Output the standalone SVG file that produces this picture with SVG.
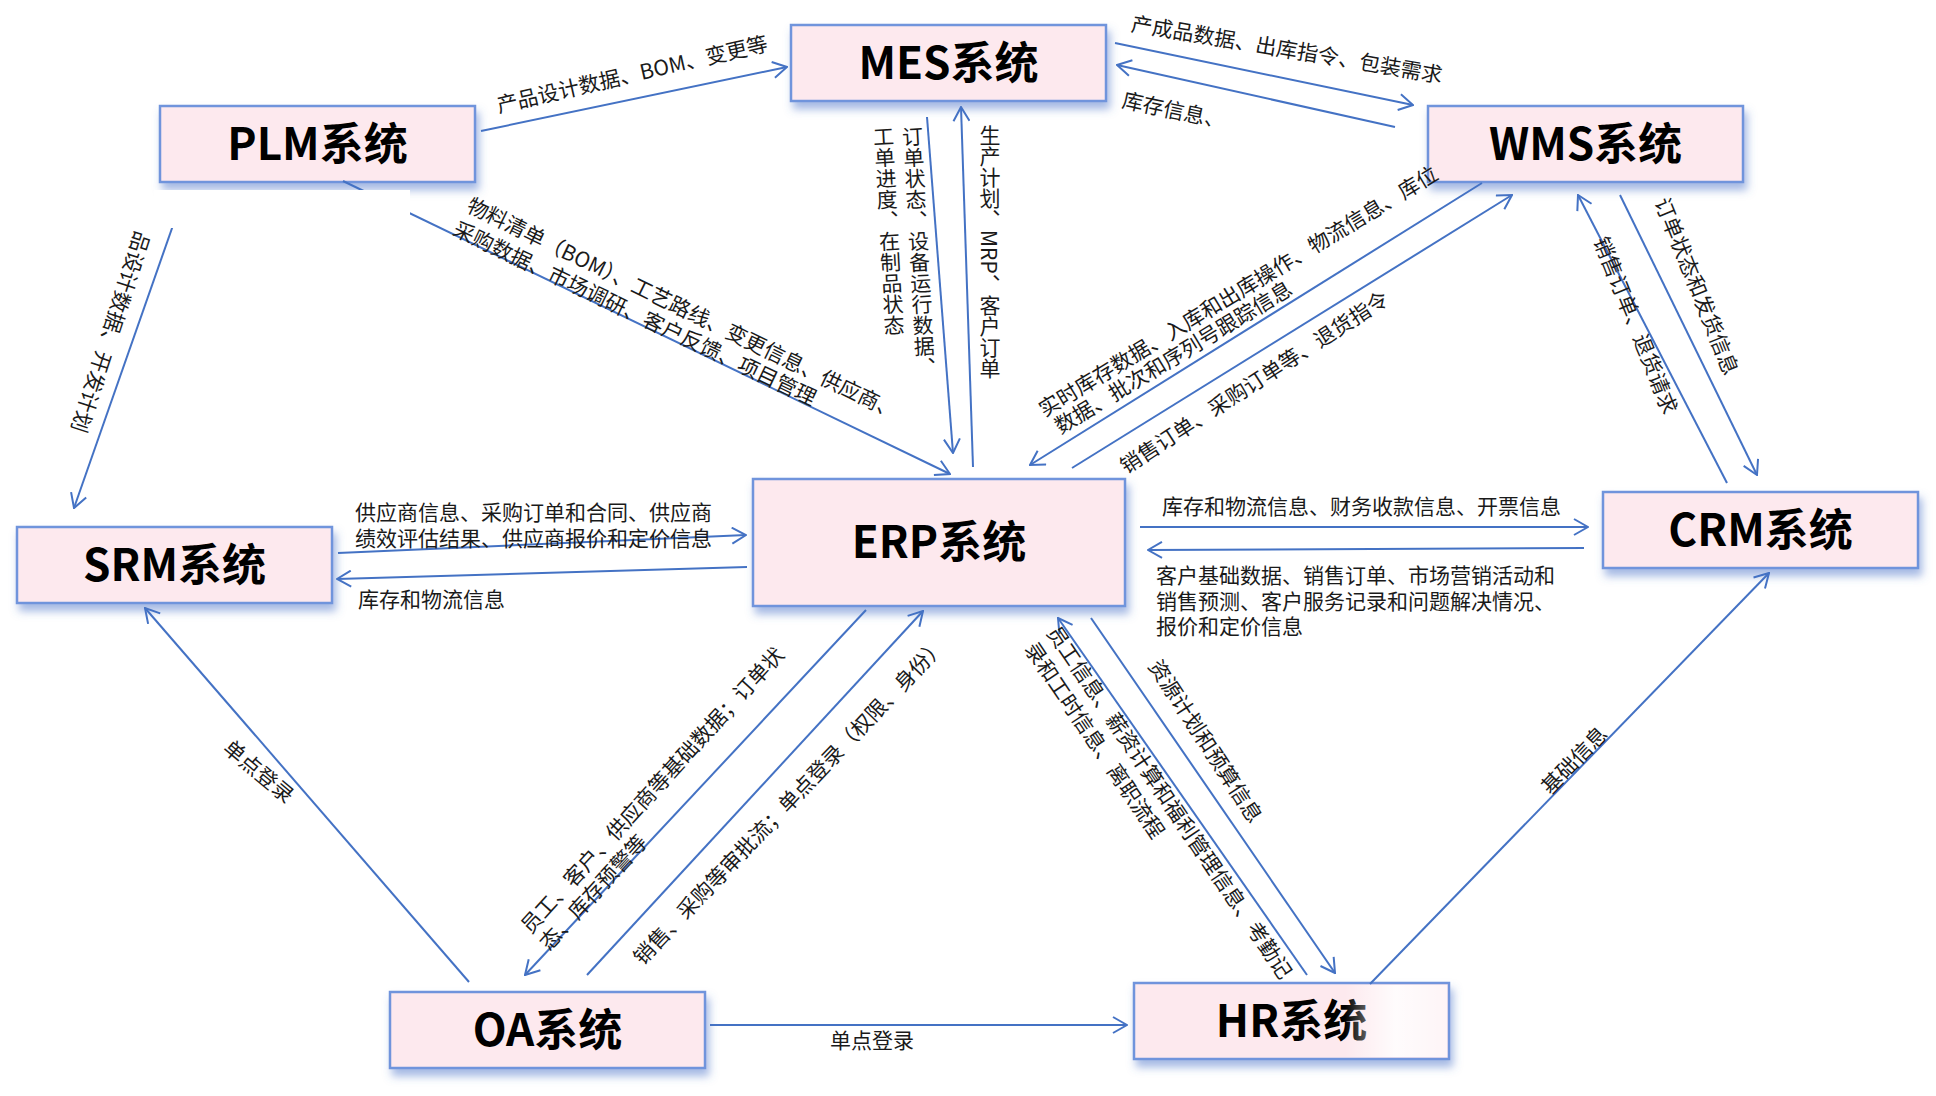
<svg xmlns="http://www.w3.org/2000/svg" width="1936" height="1096" viewBox="0 0 1936 1096">
<defs>
<filter id="sh" x="-10%" y="-20%" width="125%" height="160%">
<feDropShadow dx="3" dy="7" stdDeviation="4" flood-color="#4a72c8" flood-opacity="0.5"/>
</filter>
<marker id="ah" viewBox="0 0 16 18" refX="15" refY="9" markerWidth="16" markerHeight="18" markerUnits="userSpaceOnUse" orient="auto">
<path d="M1,1 L15,9 L1,17" fill="none" stroke="#4472c4" stroke-width="2"/>
</marker>
<linearGradient id="fade" x1="0" y1="0" x2="1" y2="0">
<stop offset="0" stop-color="#fff" stop-opacity="0"/>
<stop offset="0.5" stop-color="#fff" stop-opacity="0.85"/>
<stop offset="1" stop-color="#fff" stop-opacity="0.55"/>
</linearGradient>
<style>
.box{fill:#fde9ee;stroke:#7094dc;stroke-width:2.5;filter:url(#sh)}
.title{font-family:"Noto Sans CJK SC","Noto Sans",sans-serif;font-weight:bold;font-size:44px;text-anchor:middle;fill:#000}
.lbl{font-family:"Noto Sans CJK SC","Noto Sans",sans-serif;font-size:21px;fill:#1a1a1a}
.c{text-anchor:middle}
.v{writing-mode:vertical-rl}
.ln{stroke:#4472c4;stroke-width:2;fill:none;marker-end:url(#ah)}
</style>
</defs>
<rect width="1936" height="1096" fill="#fff"/>

<g id="node-plm"><rect class="box" x="160" y="106" width="315" height="76"/><text class="title" x="317.5" y="160">PLM系统</text></g>
<g id="node-mes"><rect class="box" x="791" y="25" width="315" height="76"/><text class="title" x="948.5" y="79">MES系统</text></g>
<g id="node-wms"><rect class="box" x="1428" y="106" width="315" height="76"/><text class="title" x="1585.5" y="160">WMS系统</text></g>
<g id="node-srm"><rect class="box" x="17" y="527" width="315" height="76"/><text class="title" x="174.5" y="581">SRM系统</text></g>
<g id="node-erp"><rect class="box" x="753" y="479" width="372" height="127"/><text class="title" x="939" y="558">ERP系统</text></g>
<g id="node-crm"><rect class="box" x="1603" y="492" width="315" height="76"/><text class="title" x="1760.5" y="546">CRM系统</text></g>
<g id="node-oa"><rect class="box" x="390" y="992" width="315" height="76"/><text class="title" x="547.5" y="1046">OA系统</text></g>
<g id="node-hr"><rect class="box" x="1134" y="983" width="315" height="76"/><text class="title" x="1291.5" y="1037">HR系统</text><rect x="1345" y="985" width="102" height="72" fill="url(#fade)"/></g>

<g id="connectors">
<path class="ln" d="M481,131 L787,67"/>
<path class="ln" d="M1115,43 L1413,105"/>
<path class="ln" d="M1395,127 L1117,65"/>
<path class="ln" d="M927,117 L953,453"/>
<path class="ln" d="M973,467 L961,107"/>
<path class="ln" d="M343,181 L950,474"/>
<path class="ln" d="M184,194 L74,508"/>
<path class="ln" d="M338,553 L746,535"/>
<path class="ln" d="M747,567 L337,579"/>
<path class="ln" d="M1140,527 L1588,527"/>
<path class="ln" d="M1584,548 L1148,550"/>
<path class="ln" d="M1482,183 L1030,465"/>
<path class="ln" d="M1072,468 L1512,195"/>
<path class="ln" d="M1727,483 L1578,195"/>
<path class="ln" d="M1620,195 L1757,475"/>
<path class="ln" d="M469,982 L145,608"/>
<path class="ln" d="M866,610 L525,975"/>
<path class="ln" d="M587,975 L923,611"/>
<path class="ln" d="M1307,975 L1058,618"/>
<path class="ln" d="M1091,618 L1335,973"/>
<path class="ln" d="M1370,984 L1769,573"/>
<path class="ln" d="M710,1025 L1127,1025"/>
<rect x="154" y="190" width="256" height="38" fill="#fff"/>

<text class="lbl c" transform="translate(632,74) rotate(-13)" y="8">产品设计数据、BOM、变更等</text>
<text class="lbl c" transform="translate(1287,49) rotate(9.5)" y="8">产成品数据、出库指令、包装需求</text>
<text class="lbl c" transform="translate(1174,110) rotate(12)" y="8">库存信息、</text>
<text class="lbl v" x="912" y="126" transform="rotate(-3.2 912 126)">订单状态、设备运行数据、</text>
<text class="lbl v" x="883" y="126" transform="rotate(-3.2 883 126)">工单进度、在制品状态</text>
<text class="lbl v" x="990" y="125">生产计划、MRP、客户订单</text>
<text class="lbl c" transform="translate(683,308) rotate(26)" y="8">物料清单（BOM）、工艺路线、变更信息、供应商、</text>
<text class="lbl c" transform="translate(635,313) rotate(25.5)" y="8">采购数据、市场调研、客户反馈、项目管理</text>
<text class="lbl c" transform="translate(111,332) rotate(108)" y="8">品设计数据、开发计划</text>
<text class="lbl" x="355" y="520">供应商信息、采购订单和合同、供应商</text>
<text class="lbl" x="355" y="546">绩效评估结果、供应商报价和定价信息</text>
<text class="lbl" x="358" y="607">库存和物流信息</text>
<text class="lbl" x="1162" y="514">库存和物流信息、财务收款信息、开票信息</text>
<text class="lbl" x="1156" y="583">客户基础数据、销售订单、市场营销活动和</text>
<text class="lbl" x="1156" y="609">销售预测、客户服务记录和问题解决情况、</text>
<text class="lbl" x="1156" y="634">报价和定价信息</text>
<text class="lbl c" transform="translate(1238,291) rotate(-31.2)" y="8">实时库存数据、入库和出库操作、物流信息、库位</text>
<text class="lbl c" transform="translate(1173,357) rotate(-31.2)" y="8">数据、批次和序列号跟踪信息</text>
<text class="lbl c" transform="translate(1254,382) rotate(-33)" y="8">销售订单、采购订单等、退货指令</text>
<text class="lbl c" transform="translate(1636,325) rotate(68)" y="8">销售订单、退货请求</text>
<text class="lbl c" transform="translate(1697,286) rotate(68)" y="8">订单状态和发货信息</text>
<text class="lbl c" transform="translate(259,771) rotate(40)" y="8">单点登录</text>
<text class="lbl c" transform="translate(652,790) rotate(-47.6)" y="8">员工、客户、供应商等基础数据；订单状</text>
<text class="lbl c" transform="translate(593,892) rotate(-47.6)" y="8">态、库存预警等</text>
<text class="lbl c" transform="translate(789,801) rotate(-46.4)" y="8">销售、采购等审批流；单点登录（权限、身份）</text>
<text class="lbl c" transform="translate(1170,802) rotate(56)" y="8">员工信息、薪资计算和福利管理信息、考勤记</text>
<text class="lbl c" transform="translate(1095,740) rotate(56)" y="8">录和工时信息、离职流程</text>
<text class="lbl c" transform="translate(1206,741) rotate(57)" y="8">资源计划和预算信息</text>
<text class="lbl c" transform="translate(1574,760) rotate(-46)" y="8">基础信息</text>
<text class="lbl" x="830" y="1048">单点登录</text>
</g>
</svg>
